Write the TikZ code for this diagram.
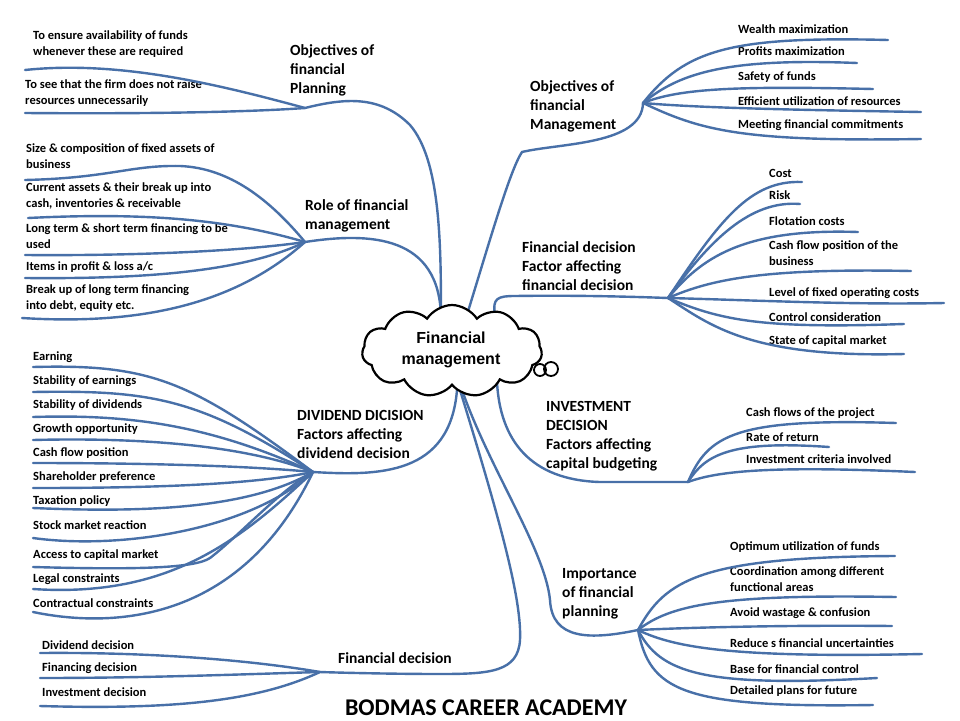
\documentclass[tikz,border=0pt]{standalone}
\usepackage{fontspec}
\setmainfont{Carlito}
\newfontfamily\cloudfont{Liberation Sans}
\usetikzlibrary{shapes.symbols}
\definecolor{branch}{RGB}{72,112,168}
\begin{document}
\begin{tikzpicture}[x=1pt,y=-1pt,
  leaf/.style={font=\fontsize{12.5}{16}\selectfont\bfseries, anchor=west, inner sep=0pt, align=left},
  head/.style={font=\fontsize{15.5}{19}\selectfont\bfseries, anchor=west, inner sep=0pt, align=left},
  conn/.style={draw=branch, line width=2.4pt, line cap=round},
  bubble/.style={draw=black, line width=2.2pt, fill=white},
]
\useasboundingbox (0,0) rectangle (960,720);
\fill[white] (0,0) rectangle (960,720);

% ---------- coordinates ----------
\coordinate (cA) at (441,318);
\coordinate (cB) at (466,318);
\coordinate (cC) at (495,315);
\coordinate (cD) at (497,382);
\coordinate (cE) at (462,390);
\coordinate (cF) at (457,390);
\coordinate (cG) at (460,390);

\coordinate (j1) at (305,108);
\coordinate (j2) at (305,242);
\coordinate (j3) at (643,103);
\coordinate (j4) at (668,298);
\coordinate (j5) at (688,482);
\coordinate (j6) at (638,630);
\coordinate (j7) at (320,672);
\coordinate (j8) at (313,472);

% ---------- Objectives of financial Planning ----------
\node[head] (hOFP) at (290,70) {Objectives of\\financial\\Planning};
\node[leaf] (p1) at (33,44) {To ensure availability of funds\\whenever these are required};
\node[leaf] (p2) at (25,93) {To see that the firm does not raise\\resources unnecessarily};
\coordinate (ep1) at (25,70);
\coordinate (ep2) at (25,113);
\draw[conn] (ep1) .. controls (120,60) and (220,85) .. (j1);
\draw[conn] (ep2) .. controls (150,114) and (250,112) .. (j1);
\draw[conn] (j1) .. controls (345,98) and (380,95) .. (410,125) .. controls (440,160) and (441,240) .. (cA);

% ---------- Role of financial management ----------
\node[head] (hRole) at (305,216) {Role of financial\\management};
\node[leaf] (r1) at (26,156) {Size \& composition of fixed assets of\\business};
\node[leaf] (r2) at (26,196) {Current assets \& their break up into\\cash, inventories \& receivable};
\node[leaf] (r3) at (26,236) {Long term \&  short term financing to be\\used};
\node[leaf] (r4) at (26,267) {Items in profit \& loss a/c};
\node[leaf] (r5) at (26,298) {Break up of long term financing\\into debt, equity etc.};
\coordinate (er1) at (25,180);
\coordinate (er2) at (28,218);
\coordinate (er3) at (25,255);
\coordinate (er4) at (25,278);
\coordinate (er5) at (22,318);
\draw[conn] (er1) .. controls (110,178) and (130,165) .. (180,166) .. controls (230,168) and (270,200) .. (j2);
\draw[conn] (er2) .. controls (150,212) and (230,220) .. (j2);
\draw[conn] (er3) .. controls (150,256) and (250,250) .. (j2);
\draw[conn] (er4) .. controls (130,279) and (240,274) .. (j2);
\draw[conn] (er5) .. controls (150,326) and (240,300) .. (j2);
\draw[conn] (j2) .. controls (370,232) and (440,235) .. (cA);

% ---------- Objectives of financial Management ----------
\node[head] (hOFM) at (530,106) {Objectives of\\financial\\Management};
\node[leaf] (m1) at (738,29) {Wealth maximization};
\node[leaf] (m2) at (738,51) {Profits maximization};
\node[leaf] (m3) at (738,77) {Safety of funds};
\node[leaf] (m4) at (738,101) {Efficient utilization  of resources};
\node[leaf] (m5) at (738,125) {Meeting financial  commitments};
\coordinate (em1) at (888,40);
\coordinate (em2) at (857,63);
\coordinate (em3) at (873,89);
\coordinate (em4) at (921,112);
\coordinate (em5) at (921,139);
\draw[conn] (j3) .. controls (685,50) and (730,36) .. (em1);
\draw[conn] (j3) .. controls (680,72) and (730,58) .. (em2);
\draw[conn] (j3) .. controls (680,88) and (740,86) .. (em3);
\draw[conn] (j3) .. controls (700,108) and (800,110) .. (em4);
\draw[conn] (j3) .. controls (700,130) and (740,142) .. (em5);
\draw[conn] (cB) .. controls (490,240) and (510,170) .. (522,152) .. controls (560,143) and (642,145) .. (j3);

% ---------- Financial decision (right) ----------
\node[head] (hFD) at (522,266) {Financial decision\\Factor affecting\\financial decision};
\node[leaf] (f1) at (769,173) {Cost};
\node[leaf] (f2) at (769,195) {Risk};
\node[leaf] (f3) at (769,221) {Flotation costs};
\node[leaf] (f4) at (769,253) {Cash flow position of the\\business};
\node[leaf] (f5) at (769,293) {Level of fixed operating costs};
\node[leaf] (f6) at (769,317) {Control consideration};
\node[leaf] (f7) at (769,341) {State of capital market};
\coordinate (ef1) at (802,182);
\coordinate (ef2) at (800,204);
\coordinate (ef3) at (858,232);
\coordinate (ef4) at (911,271);
\coordinate (ef5) at (944,303);
\coordinate (ef6) at (904,324);
\coordinate (ef7) at (904,354);
\draw[conn] (j4) .. controls (720,220) and (750,180) .. (ef1);
\draw[conn] (j4) .. controls (710,240) and (750,200) .. (ef2);
\draw[conn] (j4) .. controls (700,260) and (740,228) .. (ef3);
\draw[conn] (j4) .. controls (710,280) and (760,268) .. (ef4);
\draw[conn] (j4) .. controls (750,300) and (850,305) .. (ef5);
\draw[conn] (j4) .. controls (720,320) and (760,329) .. (ef6);
\draw[conn] (j4) .. controls (710,325) and (750,358) .. (ef7);
\draw[conn] (cC) .. controls (492,298) and (498,296) .. (515,296) .. controls (580,295) and (640,297) .. (j4);

% ---------- Investment decision ----------
\node[head] (hID) at (546,436) {INVESTMENT\\DECISION\\Factors affecting\\capital budgeting};
\node[leaf] (i1) at (746,413) {Cash flows of the project};
\node[leaf] (i2) at (746,437) {Rate of return};
\node[leaf] (i3) at (746,459) {Investment criteria involved};
\coordinate (ei1) at (896,423);
\coordinate (ei2) at (829,447);
\coordinate (ei3) at (915,472);
\draw[conn] (j5) .. controls (708,435) and (735,418) .. (ei1);
\draw[conn] (j5) .. controls (705,455) and (730,440) .. (ei2);
\draw[conn] (j5) .. controls (720,470) and (780,466) .. (ei3);
\draw[conn] (cD) .. controls (500,440) and (530,480) .. (600,482) -- (j5);

% ---------- Importance of financial planning ----------
\node[head] (hIM) at (562,594) {Importance\\of financial\\planning};
\node[leaf] (q1) at (730,547) {Optimum utilization of funds};
\node[leaf] (q2) at (730,579) {Coordination among different\\functional areas};
\node[leaf] (q3) at (730,613) {Avoid wastage  \&  confusion};
\node[leaf] (q4) at (730,643) {Reduce s financial uncertainties};
\node[leaf] (q5) at (730,669) {Base for financial control};
\node[leaf] (q6) at (730,691) {Detailed plans for future};
\coordinate (eq1) at (895,556);
\coordinate (eq2) at (896,597);
\coordinate (eq3) at (892,626);
\coordinate (eq4) at (922,654);
\coordinate (eq5) at (877,678);
\coordinate (eq6) at (873,705);
\draw[conn] (j6) .. controls (665,580) and (700,557) .. (eq1);
\draw[conn] (j6) .. controls (670,605) and (720,594) .. (eq2);
\draw[conn] (j6) .. controls (700,627) and (800,625) .. (eq3);
\draw[conn] (j6) .. controls (675,648) and (735,658) .. (eq4);
\draw[conn] (j6) .. controls (660,672) and (700,688) .. (eq5);
\draw[conn] (j6) .. controls (650,690) and (680,708) .. (eq6);
\draw[conn] (cE) .. controls (490,470) and (545,550) .. (550,600) .. controls (552,640) and (590,640) .. (j6);

% ---------- Financial decision (bottom) ----------
\node[head] (hBF) at (338,658) {Financial decision};
\node[leaf] (b1) at (42,645) {Dividend decision};
\node[leaf] (b2) at (42,668) {Financing decision};
\node[leaf] (b3) at (42,692) {Investment decision};
\coordinate (eb1) at (40,653);
\coordinate (eb2) at (40,678);
\coordinate (eb3) at (40,706);
\draw[conn] (eb1) .. controls (150,652) and (250,660) .. (j7);
\draw[conn] (eb2) .. controls (150,678) and (250,674) .. (j7);
\draw[conn] (eb3) .. controls (180,710) and (260,700) .. (j7);
\draw[conn] (cG) .. controls (500,520) and (522,600) .. (520,640) .. controls (518,672) and (490,674) .. (440,674) .. controls (400,674) and (350,673) .. (j7);

% ---------- Dividend decision ----------
\node[head] (hDV) at (297,434) {DIVIDEND DICISION\\Factors affecting\\dividend decision};
\node[leaf] (d1) at (33,357) {Earning};
\node[leaf] (d2) at (33,381) {Stability of earnings};
\node[leaf] (d3) at (33,405) {Stability of dividends};
\node[leaf] (d4) at (33,429) {Growth opportunity};
\node[leaf] (d5) at (33,453) {Cash flow position};
\node[leaf] (d6) at (33,477) {Shareholder preference};
\node[leaf] (d7) at (33,501) {Taxation policy};
\node[leaf] (d8) at (33,525) {Stock market reaction};
\node[leaf] (d9) at (33,555) {Access to capital market};
\node[leaf] (d10) at (33,579) {Legal constraints};
\node[leaf] (d11) at (33,603) {Contractual constraints};
\coordinate (ed1) at (33,367);
\coordinate (ed2) at (33,392);
\coordinate (ed3) at (33,417);
\coordinate (ed4) at (33,440);
\coordinate (ed5) at (33,463);
\coordinate (ed6) at (33,488);
\coordinate (ed7) at (33,508);
\coordinate (ed8) at (33,538);
\coordinate (ed9) at (33,567);
\coordinate (ed10) at (33,589);
\coordinate (ed11) at (33,612);
\draw[conn] (ed1) .. controls (150,364) and (190,380) .. (j8);
\draw[conn] (ed2) .. controls (150,390) and (200,398) .. (j8);
\draw[conn] (ed3) .. controls (130,414) and (210,425) .. (j8);
\draw[conn] (ed4) .. controls (150,437) and (250,447) .. (j8);
\draw[conn] (ed5) .. controls (150,463) and (250,466) .. (j8);
\draw[conn] (ed6) .. controls (150,488) and (250,485) .. (j8);
\draw[conn] (ed7) .. controls (150,513) and (250,508) .. (j8);
\draw[conn] (ed8) .. controls (120,550) and (250,530) .. (j8);
\draw[conn] (ed9) .. controls (140,570) and (195,568) .. (210,558) .. controls (240,535) and (280,490) .. (j8);
\draw[conn] (ed10) .. controls (170,598) and (240,540) .. (j8);
\draw[conn] (ed11) .. controls (110,628) and (240,625) .. (j8);
\draw[conn] (j8) .. controls (380,476) and (450,475) .. (cF);

% ---------- central cloud ----------
\node[cloud, cloud puffs=11, cloud puff arc=115, aspect=2, bubble,
      minimum width=180pt, minimum height=92pt, inner sep=0pt] (cloud) at (452,351) {};
\node[font=\cloudfont\bfseries\fontsize{16}{21}\selectfont, align=center, inner sep=0pt] (ctext) at (451,350) {Financial\\management};
\draw[line width=1.8pt] (540,370) circle[radius=6];
\draw[line width=1.8pt] (551,369) circle[radius=7];

% ---------- title ----------
\node[font=\fontsize{24}{28}\selectfont\bfseries, inner sep=0pt, anchor=base] (title) at (486,715) {BODMAS CAREER ACADEMY};
\end{tikzpicture}
\end{document}
